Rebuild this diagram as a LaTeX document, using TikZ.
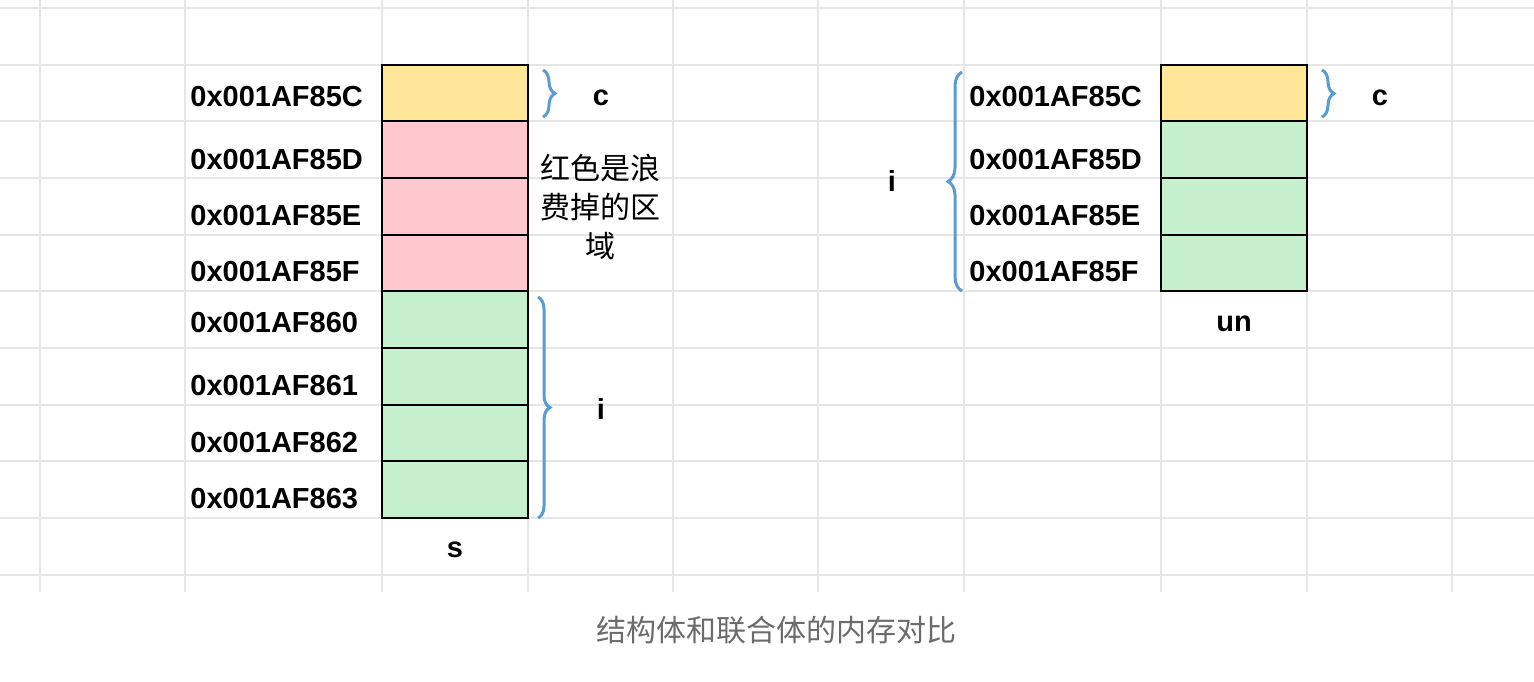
\documentclass[tikz,border=0pt]{standalone}
\usepackage{fontspec}
\setmainfont{Liberation Sans}
\newfontfamily\cjk{Noto Sans CJK SC}
\usetikzlibrary{decorations.pathreplacing}
\definecolor{gridc}{RGB}{230,230,230}
\definecolor{yel}{RGB}{255,230,153}
\definecolor{redc}{RGB}{255,199,206}
\definecolor{grn}{RGB}{198,239,206}
\definecolor{bl}{RGB}{91,155,213}
\begin{document}
\begin{tikzpicture}[x=0.5pt,y=-0.5pt,
  cell/.style={draw=black,line width=0.8pt},
  addr/.style={anchor=west,font=\bfseries\fontsize{14.5}{16}\selectfont,inner sep=0},
  lab/.style={font=\bfseries\fontsize{14.5}{16}\selectfont,inner sep=0},
  br/.style={draw=bl,line width=1.5pt,decorate,decoration={brace,amplitude=6pt,aspect=0.5}}]
\useasboundingbox (0,0) rectangle (1534,681);
\foreach \x in {40,185,382,528,673,818,964,1161,1307,1452}
  \draw[gridc,line width=0.6pt] (\x,0) -- (\x,592);
\foreach \y in {8,65,121,178,235,291,348,405,461,518,575}
  \draw[gridc,line width=0.6pt] (0,\y) -- (1534,\y);
% left column
\draw[cell,fill=yel] (382,65) rectangle (528,121);
\foreach \a/\b in {121/178,178/235,235/291}
  \draw[cell,fill=redc] (382,\a) rectangle (528,\b);
\foreach \a/\b in {291/348,348/405,405/461,461/518}
  \draw[cell,fill=grn] (382,\a) rectangle (528,\b);
% right column
\draw[cell,fill=yel] (1161,65) rectangle (1307,121);
\foreach \a/\b in {121/178,178/235,235/291}
  \draw[cell,fill=grn] (1161,\a) rectangle (1307,\b);
% addresses left
\node[addr] (l1) at (190,97) {0x001AF85C};
\node[addr] (l2) at (190,160) {0x001AF85D};
\node[addr] (l3) at (190,216) {0x001AF85E};
\node[addr] (l4) at (190,272) {0x001AF85F};
\node[addr] (l5) at (190,323) {0x001AF860};
\node[addr] (l6) at (190,386) {0x001AF861};
\node[addr] (l7) at (190,443) {0x001AF862};
\node[addr] (l8) at (190,499) {0x001AF863};
% addresses right
\node[addr] (r1) at (969,97) {0x001AF85C};
\node[addr] (r2) at (969,160) {0x001AF85D};
\node[addr] (r3) at (969,216) {0x001AF85E};
\node[addr] (r4) at (969,272) {0x001AF85F};
% braces
\draw[br] (543,70) -- (543,117);
\draw[br] (538,297) -- (538,518);
\draw[br,decoration={aspect=0.5,amplitude=7pt}] (962,291) -- (962,72);
\draw[br] (1322,70) -- (1322,117);
\node[lab] (lc) at (601,98) {c};
\node[lab] (li) at (601,409) {i};
\node[lab] (ri) at (892,181) {i};
\node[lab] (rc) at (1380,98) {c};
\node[lab] (ls) at (455,550) {s};
\node[lab] (run) at (1234,324) {un};
\node[font=\cjk\fontsize{15}{19.5}\selectfont,align=center,inner sep=0] (waste) at (600,207) {红色是浪\\费掉的区\\域};
\node[font=\cjk\fontsize{15}{18}\selectfont,text=black!58,inner sep=0] (cap) at (776,630) {结构体和联合体的内存对比};
\end{tikzpicture}
\end{document}
